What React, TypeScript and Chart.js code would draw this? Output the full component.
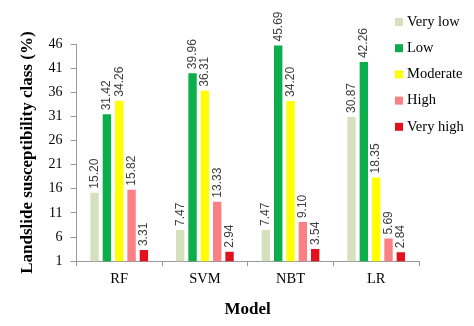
import React, { useEffect, useRef } from "react";
import { Chart, registerables } from "chart.js";

Chart.register(...registerables);

const categories = ["RF", "SVM", "NBT", "LR"];
const seriesNames = ["Very low", "Low", "Moderate", "High", "Very high"];
const veryLow = [15.2, 7.47, 7.47, 30.87];
const low = [31.42, 39.96, 45.69, 42.26];
const moderate = [34.26, 36.31, 34.2, 18.35];
const high = [15.82, 13.33, 9.1, 5.69];
const veryHigh = [3.31, 2.94, 3.54, 2.84];
const colors = ["#d5e0bd", "#0cad4b", "#ffff00", "#fb8083", "#e3111d"];
const yTicks = [1, 6, 11, 16, 21, 26, 31, 36, 41, 46];

const SERIF = "'Liberation Serif', 'Times New Roman', serif";

const labelPlugin = {
  id: "barLabels",
  afterDatasetsDraw(chart: any) {
    const ctx = chart.ctx;
    ctx.save();
    ctx.font = "12px 'Liberation Sans', Arial, sans-serif";
    ctx.fillStyle = "#404040";
    ctx.textAlign = "left";
    ctx.textBaseline = "middle";
    chart.data.datasets.forEach((ds: any, i: number) => {
      const meta = chart.getDatasetMeta(i);
      meta.data.forEach((bar: any, j: number) => {
        const v = ds.data[j];
        ctx.save();
        ctx.translate(bar.x, bar.y - 4);
        ctx.rotate(-Math.PI / 2);
        ctx.fillText(v.toFixed(2), 0, 0);
        ctx.restore();
      });
    });
    ctx.restore();
  },
};

const legendPlugin = {
  id: "customLegend",
  afterDraw(chart: any) {
    const ctx = chart.ctx;
    ctx.save();
    ctx.font = `14.5px ${SERIF}`;
    ctx.textBaseline = "middle";
    ctx.textAlign = "left";
    chart.data.datasets.forEach((ds: any, i: number) => {
      const y = 22 + i * 26.2;
      ctx.fillStyle = ds.backgroundColor;
      ctx.fillRect(395, y - 4, 8, 8);
      ctx.fillStyle = "#000";
      ctx.fillText(ds.label, 407, y);
    });
    ctx.restore();
  },
};

export default function App() {
  const ref = useRef<HTMLCanvasElement>(null);
  useEffect(() => {
    document.body.style.margin = "0";
    const values = [veryLow, low, moderate, high, veryHigh];
    const chart = new Chart(ref.current!, {
      type: "bar",
      data: {
        labels: categories,
        datasets: seriesNames.map((name, i) => ({
          label: name,
          data: values[i],
          backgroundColor: colors[i],
          categoryPercentage: 0.72,
          barPercentage: 0.68,
        })),
      },
      options: {
        animation: false,
        responsive: false,
        layout: { padding: { top: 44, right: 55, left: 17, bottom: 6 } },
        plugins: { legend: { display: false }, tooltip: { enabled: false } },
        scales: {
          x: {
            grid: { drawOnChartArea: false, drawTicks: true, tickLength: 5, color: "#999", offset: true },
            border: { color: "#999" },
            ticks: { color: "#000", font: { family: SERIF, size: 14.5 }, padding: 4 },
            title: {
              display: true,
              text: "Model",
              color: "#000",
              font: { family: SERIF, size: 17, weight: "bold" },
              padding: { top: 8, bottom: 0 },
            },
          },
          y: {
            min: 1,
            max: 46,
            afterBuildTicks: (axis: any) => {
              axis.ticks = yTicks.map((v) => ({ value: v }));
            },
            grid: { drawOnChartArea: false, drawTicks: true, tickLength: 6, color: "#999" },
            border: { color: "#999" },
            ticks: { color: "#000", font: { family: SERIF, size: 14 }, padding: 8 },
            title: {
              display: true,
              text: "Landslide susceptibility class (%)",
              color: "#000",
              font: { family: SERIF, size: 17, weight: "bold" },
              padding: { top: 0, bottom: 3 },
            },
          },
        },
      },
      plugins: [labelPlugin, legendPlugin],
    } as any);
    return () => chart.destroy();
  }, []);
  return (
    <div style={{ width: 474, height: 326, background: "#fff" }}>
      <canvas ref={ref} width={474} height={326} />
    </div>
  );
}
